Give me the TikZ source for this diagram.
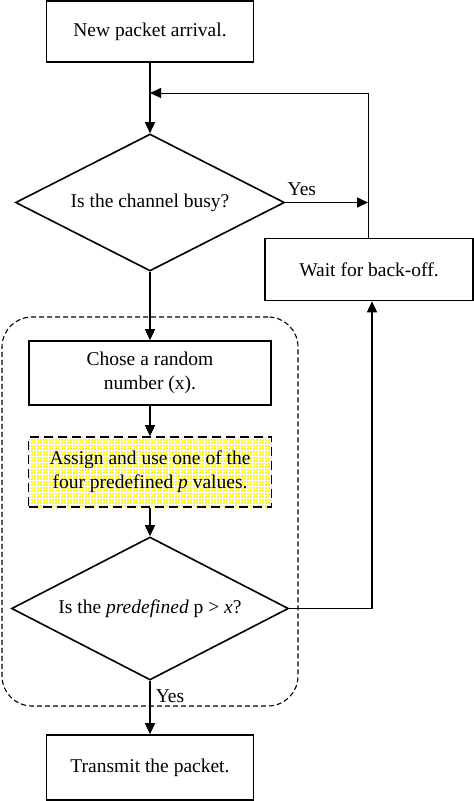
\documentclass[tikz,border=0pt]{standalone}
\usepackage{fontspec}
\setmainfont{Liberation Serif}
\usepackage{tikz}
\usetikzlibrary{arrows.meta,shapes.geometric,patterns}
\tikzset{
  box/.style   = {draw, line width=1.6pt, align=center, inner sep=2pt,
                  font=\fontsize{19.5}{24}\selectfont},
  dia/.style   = {box, diamond, inner sep=0pt, aspect=2},
  pbox/.style  = {box, dashed, dash pattern=on 9pt off 5pt,
                  preaction={fill=yellow!85}, pattern=grid, pattern color=white},
  group/.style = {draw, line width=1.1pt, dash pattern=on 5pt off 3pt,
                  rounded corners=30pt},
  flow/.style  = {-{Triangle[length=11pt,width=10pt]}, line width=1.6pt},
  back/.style  = {line width=0.9pt},
  lbl/.style   = {font=\fontsize{19.5}{24}\selectfont, inner sep=1pt},
}
\begin{document}
\begin{tikzpicture}[x=1pt, y=-1pt]
  \useasboundingbox (0,0) rectangle (474,801);
  % outer dashed group
  \node[group, minimum width=296pt, minimum height=389pt] (G) at (150,511.5) {};
  \node[box, minimum width=207pt, minimum height=61pt] (A) at (150,31.5) {New packet arrival.};
  \node[dia, minimum width=269pt, minimum height=137pt] (B) at (150,202.5) {Is the channel busy?};
  \node[box, minimum width=208pt, minimum height=62pt] (W) at (369,269.5) {Wait for back-off.};
  \node[box, minimum width=242pt, minimum height=64pt] (C) at (150,373) {Chose a random\\ number (x).};
  \node[pbox, minimum width=243pt, minimum height=70pt] (P) at (150,472) {Assign and use one of the\\ four predefined \textit{p} values.};
  \node[dia, minimum width=277pt, minimum height=143pt] (D) at (150,608.5) {Is the \textit{predefined} p > \textit{x}?};
  \node[box, minimum width=207pt, minimum height=65pt] (T) at (150,767.5) {Transmit the packet.};
  \coordinate (J) at (150,93);
  \coordinate (Y) at (368,202.5);
  \coordinate (R) at (372,608.5);
  % main flow
  \draw[flow] (A.south) -- (B.north);
  \draw[flow] (B.south) -- (C.north);
  \draw[flow] (C.south) -- (P.north);
  \draw[flow] (P.south) -- (D.north);
  \draw[flow] (D.south) -- node[lbl, pos=0.28, right=4pt] {Yes} (T.north);
  \draw[flow] (B.east) -- node[lbl, pos=0.2, above=5pt] {Yes} (Y);
  % back-off loop
  \draw[back] (W.north -| Y) -- (Y |- J);
  \draw[back, -{Triangle[length=11pt,width=10pt]}] (Y |- J) -- (J);
  \draw[back] (D.east) -- (R);
  \draw[flow] (R) -- (W.south -| R);
\end{tikzpicture}
\end{document}
